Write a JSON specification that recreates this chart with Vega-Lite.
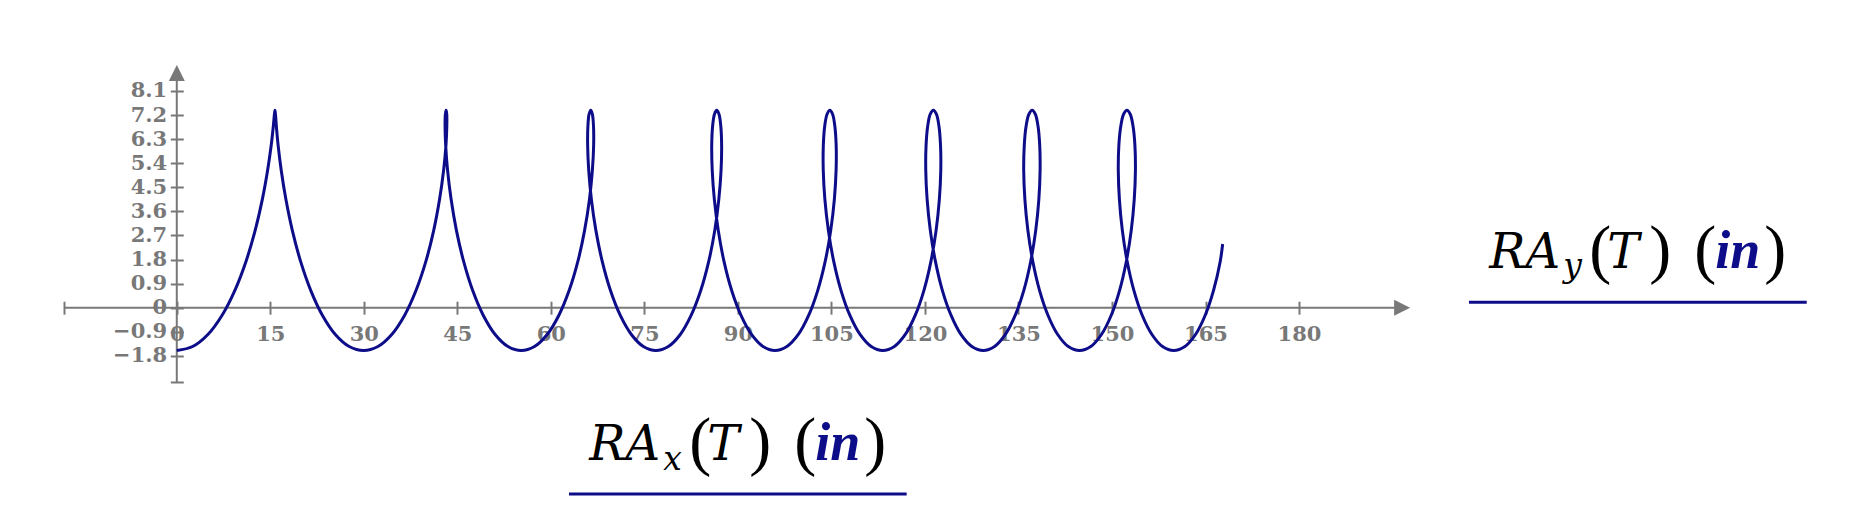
{
  "$schema": "https://vega.github.io/schema/vega-lite/v6.json",
  "width": 1346,
  "height": 317,
  "autosize": {"type": "none"},
  "padding": {"left": 64, "top": 65, "right": 455, "bottom": 131},
  "background": "white",
  "config": {"view": {"stroke": null}},
  "data": {
    "values": [
      {"i": 0, "x": 0, "y": -1.6}, {"i": 1, "x": 2.54, "y": -1.45}, {"i": 2, "x": 4.99, "y": -1.0}, {"i": 3, "x": 7.27, "y": -0.28},
      {"i": 4, "x": 9.32, "y": 0.65}, {"i": 5, "x": 11.1, "y": 1.73}, {"i": 6, "x": 12.57, "y": 2.89}, {"i": 7, "x": 13.72, "y": 4.05},
      {"i": 8, "x": 14.57, "y": 5.14}, {"i": 9, "x": 15.14, "y": 6.06}, {"i": 10, "x": 15.48, "y": 6.78}, {"i": 11, "x": 15.66, "y": 7.23},
      {"i": 12, "x": 15.75, "y": 7.38}, {"i": 13, "x": 15.83, "y": 7.23}, {"i": 14, "x": 15.97, "y": 6.78}, {"i": 15, "x": 16.26, "y": 6.06},
      {"i": 16, "x": 16.75, "y": 5.14}, {"i": 17, "x": 17.5, "y": 4.05}, {"i": 18, "x": 18.53, "y": 2.89}, {"i": 19, "x": 19.86, "y": 1.73},
      {"i": 20, "x": 21.48, "y": 0.65}, {"i": 21, "x": 23.35, "y": -0.28}, {"i": 22, "x": 25.43, "y": -1.0}, {"i": 23, "x": 27.66, "y": -1.45},
      {"i": 24, "x": 29.95, "y": -1.6}, {"i": 25, "x": 32.26, "y": -1.45}, {"i": 26, "x": 34.48, "y": -1.0}, {"i": 27, "x": 36.55, "y": -0.28},
      {"i": 28, "x": 38.38, "y": 0.65}, {"i": 29, "x": 39.95, "y": 1.73}, {"i": 30, "x": 41.21, "y": 2.89}, {"i": 31, "x": 42.15, "y": 4.05},
      {"i": 32, "x": 42.8, "y": 5.14}, {"i": 33, "x": 43.17, "y": 6.06}, {"i": 34, "x": 43.31, "y": 6.78}, {"i": 35, "x": 43.3, "y": 7.23},
      {"i": 36, "x": 43.2, "y": 7.38}, {"i": 37, "x": 43.08, "y": 7.23}, {"i": 38, "x": 43.03, "y": 6.78}, {"i": 39, "x": 43.13, "y": 6.06},
      {"i": 40, "x": 43.43, "y": 5.14}, {"i": 41, "x": 44.0, "y": 4.05}, {"i": 42, "x": 44.85, "y": 2.89}, {"i": 43, "x": 46.01, "y": 1.73},
      {"i": 44, "x": 47.45, "y": 0.65}, {"i": 45, "x": 49.15, "y": -0.28}, {"i": 46, "x": 51.06, "y": -1.0}, {"i": 47, "x": 53.12, "y": -1.45},
      {"i": 48, "x": 55.25, "y": -1.6}, {"i": 49, "x": 57.37, "y": -1.45}, {"i": 50, "x": 59.41, "y": -1.0}, {"i": 51, "x": 61.29, "y": -0.28},
      {"i": 52, "x": 62.94, "y": 0.65}, {"i": 53, "x": 64.33, "y": 1.73}, {"i": 54, "x": 65.41, "y": 2.89}, {"i": 55, "x": 66.19, "y": 4.05},
      {"i": 56, "x": 66.66, "y": 5.14}, {"i": 57, "x": 66.86, "y": 6.06}, {"i": 58, "x": 66.84, "y": 6.78}, {"i": 59, "x": 66.66, "y": 7.23},
      {"i": 60, "x": 66.4, "y": 7.38}, {"i": 61, "x": 66.13, "y": 7.23}, {"i": 62, "x": 65.94, "y": 6.78}, {"i": 63, "x": 65.9, "y": 6.06},
      {"i": 64, "x": 66.07, "y": 5.14}, {"i": 65, "x": 66.5, "y": 4.05}, {"i": 66, "x": 67.22, "y": 2.89}, {"i": 67, "x": 68.24, "y": 1.73},
      {"i": 68, "x": 69.55, "y": 0.65}, {"i": 69, "x": 71.12, "y": -0.28}, {"i": 70, "x": 72.91, "y": -1.0}, {"i": 71, "x": 74.84, "y": -1.45},
      {"i": 72, "x": 76.85, "y": -1.6}, {"i": 73, "x": 78.84, "y": -1.45}, {"i": 74, "x": 80.76, "y": -1.0}, {"i": 75, "x": 82.51, "y": -0.28},
      {"i": 76, "x": 84.05, "y": 0.65}, {"i": 77, "x": 85.32, "y": 1.73}, {"i": 78, "x": 86.29, "y": 2.89}, {"i": 79, "x": 86.94, "y": 4.05},
      {"i": 80, "x": 87.3, "y": 5.14}, {"i": 81, "x": 87.39, "y": 6.06}, {"i": 82, "x": 87.26, "y": 6.78}, {"i": 83, "x": 86.97, "y": 7.23},
      {"i": 84, "x": 86.6, "y": 7.38}, {"i": 85, "x": 86.24, "y": 7.23}, {"i": 86, "x": 85.94, "y": 6.78}, {"i": 87, "x": 85.8, "y": 6.06},
      {"i": 88, "x": 85.88, "y": 5.14}, {"i": 89, "x": 86.22, "y": 4.05}, {"i": 90, "x": 86.85, "y": 2.89}, {"i": 91, "x": 87.77, "y": 1.73},
      {"i": 92, "x": 88.99, "y": 0.65}, {"i": 93, "x": 90.48, "y": -0.28}, {"i": 94, "x": 92.18, "y": -1.0}, {"i": 95, "x": 94.03, "y": -1.45},
      {"i": 96, "x": 95.95, "y": -1.6}, {"i": 97, "x": 97.86, "y": -1.45}, {"i": 98, "x": 99.69, "y": -1.0}, {"i": 99, "x": 101.36, "y": -0.28},
      {"i": 100, "x": 102.81, "y": 0.65}, {"i": 101, "x": 104.0, "y": 1.73}, {"i": 102, "x": 104.89, "y": 2.89}, {"i": 103, "x": 105.47, "y": 4.05},
      {"i": 104, "x": 105.75, "y": 5.14}, {"i": 105, "x": 105.76, "y": 6.06}, {"i": 106, "x": 105.55, "y": 6.78}, {"i": 107, "x": 105.19, "y": 7.23},
      {"i": 108, "x": 104.75, "y": 7.38}, {"i": 109, "x": 104.3, "y": 7.23}, {"i": 110, "x": 103.92, "y": 6.78}, {"i": 111, "x": 103.7, "y": 6.06},
      {"i": 112, "x": 103.69, "y": 5.14}, {"i": 113, "x": 103.95, "y": 4.05}, {"i": 114, "x": 104.51, "y": 2.89}, {"i": 115, "x": 105.37, "y": 1.73},
      {"i": 116, "x": 106.53, "y": 0.65}, {"i": 117, "x": 107.95, "y": -0.28}, {"i": 118, "x": 109.59, "y": -1.0}, {"i": 119, "x": 111.38, "y": -1.45},
      {"i": 120, "x": 113.25, "y": -1.6}, {"i": 121, "x": 115.09, "y": -1.45}, {"i": 122, "x": 116.85, "y": -1.0}, {"i": 123, "x": 118.45, "y": -0.28},
      {"i": 124, "x": 119.84, "y": 0.65}, {"i": 125, "x": 120.96, "y": 1.73}, {"i": 126, "x": 121.79, "y": 2.89}, {"i": 127, "x": 122.31, "y": 4.05},
      {"i": 128, "x": 122.54, "y": 5.14}, {"i": 129, "x": 122.5, "y": 6.06}, {"i": 130, "x": 122.25, "y": 6.78}, {"i": 131, "x": 121.84, "y": 7.23},
      {"i": 132, "x": 121.35, "y": 7.38}, {"i": 133, "x": 120.85, "y": 7.23}, {"i": 134, "x": 120.44, "y": 6.78}, {"i": 135, "x": 120.18, "y": 6.06},
      {"i": 136, "x": 120.13, "y": 5.14}, {"i": 137, "x": 120.35, "y": 4.05}, {"i": 138, "x": 120.86, "y": 2.89}, {"i": 139, "x": 121.68, "y": 1.73},
      {"i": 140, "x": 122.79, "y": 0.65}, {"i": 141, "x": 124.18, "y": -0.28}, {"i": 142, "x": 125.77, "y": -1.0}, {"i": 143, "x": 127.52, "y": -1.45},
      {"i": 144, "x": 129.35, "y": -1.6}, {"i": 145, "x": 131.17, "y": -1.45}, {"i": 146, "x": 132.9, "y": -1.0}, {"i": 147, "x": 134.49, "y": -0.28},
      {"i": 148, "x": 135.86, "y": 0.65}, {"i": 149, "x": 136.96, "y": 1.73}, {"i": 150, "x": 137.77, "y": 2.89}, {"i": 151, "x": 138.27, "y": 4.05},
      {"i": 152, "x": 138.47, "y": 5.14}, {"i": 153, "x": 138.41, "y": 6.06}, {"i": 154, "x": 138.14, "y": 6.78}, {"i": 155, "x": 137.71, "y": 7.23},
      {"i": 156, "x": 137.2, "y": 7.38}, {"i": 157, "x": 136.67, "y": 7.23}, {"i": 158, "x": 136.22, "y": 6.78}, {"i": 159, "x": 135.93, "y": 6.06},
      {"i": 160, "x": 135.84, "y": 5.14}, {"i": 161, "x": 136.03, "y": 4.05}, {"i": 162, "x": 136.51, "y": 2.89}, {"i": 163, "x": 137.3, "y": 1.73},
      {"i": 164, "x": 138.38, "y": 0.65}, {"i": 165, "x": 139.73, "y": -0.28}, {"i": 166, "x": 141.29, "y": -1.0}, {"i": 167, "x": 143.0, "y": -1.45},
      {"i": 168, "x": 144.8, "y": -1.6}, {"i": 169, "x": 146.6, "y": -1.45}, {"i": 170, "x": 148.31, "y": -1.0}, {"i": 171, "x": 149.88, "y": -0.28},
      {"i": 172, "x": 151.22, "y": 0.65}, {"i": 173, "x": 152.3, "y": 1.73}, {"i": 174, "x": 153.09, "y": 2.89}, {"i": 175, "x": 153.57, "y": 4.05},
      {"i": 176, "x": 153.76, "y": 5.14}, {"i": 177, "x": 153.68, "y": 6.06}, {"i": 178, "x": 153.38, "y": 6.78}, {"i": 179, "x": 152.93, "y": 7.23},
      {"i": 180, "x": 152.4, "y": 7.38}, {"i": 181, "x": 151.86, "y": 7.23}, {"i": 182, "x": 151.41, "y": 6.78}, {"i": 183, "x": 151.1, "y": 6.06},
      {"i": 184, "x": 151.01, "y": 5.14}, {"i": 185, "x": 151.19, "y": 4.05}, {"i": 186, "x": 151.66, "y": 2.89}, {"i": 187, "x": 152.44, "y": 1.73},
      {"i": 188, "x": 153.51, "y": 0.65}, {"i": 189, "x": 154.85, "y": -0.28}, {"i": 190, "x": 156.41, "y": -1.0}, {"i": 191, "x": 158.11, "y": -1.45},
      {"i": 192, "x": 159.9, "y": -1.6}, {"i": 193, "x": 161.69, "y": -1.45}, {"i": 194, "x": 163.4, "y": -1.0}, {"i": 195, "x": 164.95, "y": -0.28},
      {"i": 196, "x": 166.29, "y": 0.65}, {"i": 197, "x": 167.36, "y": 1.73}, {"i": 198, "x": 167.75, "y": 2.38}
    ]
  },
  "layer": [
    {
      "data": {"values": [{}]},
      "mark": {"type": "rule", "color": "#787878", "strokeWidth": 2, "clip": false},
      "encoding": {"x": {"datum": -18.09}, "x2": {"datum": 196.54}, "y": {"datum": 0}}
    },
    {
      "data": {"values": [{}]},
      "mark": {"type": "rule", "color": "#787878", "strokeWidth": 2, "clip": false},
      "encoding": {"x": {"datum": 0}, "y": {"datum": -2.776}, "y2": {"datum": 8.77}}
    },
    {
      "data": {"values": [{}]},
      "mark": {"type": "point", "shape": "M-1,1L0,-1L1,1Z", "size": 256, "filled": true, "color": "#787878", "opacity": 1, "clip": false},
      "encoding": {"x": {"datum": 0}, "y": {"datum": 8.77}}
    },
    {
      "data": {"values": [{}]},
      "mark": {"type": "point", "shape": "M-1,-1L1,0L-1,1Z", "size": 256, "filled": true, "color": "#787878", "opacity": 1, "clip": false},
      "encoding": {"x": {"datum": 196.54}, "y": {"datum": 0}}
    },
    {
      "mark": {"type": "line", "color": "#0d0d8a", "strokeWidth": 3, "interpolate": "catmull-rom", "clip": false},
      "encoding": {
        "order": {"field": "i", "type": "quantitative"},
        "x": {
          "field": "x",
          "type": "quantitative",
          "scale": {"domain": [-18.09, 197.8], "nice": false, "zero": false},
          "axis": {
            "title": null,
            "orient": "bottom",
            "offset": -80.8,
            "domain": false,
            "grid": false,
            "values": [-18.09, 0, 15, 30, 45, 60, 75, 90, 105, 120, 135, 150, 165, 180],
            "tickCount": 40,
            "labelExpr": "datum.value < -18 ? '' : datum.label",
            "tickSize": 13,
            "tickWidth": 2,
            "tickColor": "#787878",
            "labelFont": "DejaVu Serif",
            "labelFontWeight": "bold",
            "labelFontSize": 21,
            "labelColor": "#787878",
            "labelBaseline": "middle",
            "labelPadding": 20,
            "labelFlush": false,
            "labelOverlap": false,
            "labelBound": false
          }
        },
        "y": {
          "field": "y",
          "type": "quantitative",
          "scale": {"domain": [-2.776, 9.07], "nice": false, "zero": false},
          "axis": {
            "title": null,
            "orient": "left",
            "offset": -119.3,
            "domain": false,
            "grid": false,
            "values": [-2.776, -1.8, -0.9, 0, 0.9, 1.8, 2.7, 3.6, 4.5, 5.4, 6.3, 7.2, 8.1],
            "tickCount": 40,
            "format": ".1~f",
            "labelExpr": "datum.value < -2.7 ? '' : datum.label",
            "tickSize": 13,
            "tickWidth": 2,
            "tickColor": "#787878",
            "labelFont": "DejaVu Serif",
            "labelFontWeight": "bold",
            "labelFontSize": 21,
            "labelColor": "#787878",
            "labelBaseline": "middle",
            "labelPadding": 3.6,
            "labelFlush": false,
            "labelOverlap": false,
            "labelBound": false
          }
        }
      }
    },
    {
      "data": {"values": [{}]},
      "mark": {"type": "rule", "color": "#0d0d8a", "strokeWidth": 3, "clip": false},
      "encoding": {"x": {"datum": 62.91}, "x2": {"datum": 117.07}, "y": {"datum": -6.961}}
    },
    {
      "data": {"values": [{}]},
      "mark": {"type": "rule", "color": "#0d0d8a", "strokeWidth": 3, "clip": false},
      "encoding": {"x": {"datum": 207.26}, "x2": {"datum": 261.43}, "y": {"datum": 0.202}}
    },
    {
      "data": {"values": [{}]},
      "mark": {"type": "text", "text": "RA", "font": "DejaVu Serif", "fontStyle": "italic", "fontSize": 48, "color": "black", "align": "left", "baseline": "alphabetic", "dx": 0, "clip": false},
      "encoding": {"x": {"datum": 66.16}, "y": {"datum": -5.691}}
    },
    {
      "data": {"values": [{}]},
      "mark": {"type": "text", "text": "x", "font": "DejaVu Serif", "fontStyle": "italic", "fontSize": 33, "color": "black", "align": "left", "baseline": "alphabetic", "dx": 74, "dy": 10, "clip": false},
      "encoding": {"x": {"datum": 66.16}, "y": {"datum": -5.691}}
    },
    {
      "data": {"values": [{}]},
      "mark": {"type": "text", "text": "(", "font": "Liberation Serif", "fontSize": 66, "color": "black", "align": "left", "baseline": "alphabetic", "dx": 100, "dy": 3, "clip": false},
      "encoding": {"x": {"datum": 66.16}, "y": {"datum": -5.691}}
    },
    {
      "data": {"values": [{}]},
      "mark": {"type": "text", "text": "T", "font": "DejaVu Serif", "fontStyle": "italic", "fontSize": 48, "color": "black", "align": "left", "baseline": "alphabetic", "dx": 118, "clip": false},
      "encoding": {"x": {"datum": 66.16}, "y": {"datum": -5.691}}
    },
    {
      "data": {"values": [{}]},
      "mark": {"type": "text", "text": ")", "font": "Liberation Serif", "fontSize": 66, "color": "black", "align": "left", "baseline": "alphabetic", "dx": 160, "dy": 3, "clip": false},
      "encoding": {"x": {"datum": 66.16}, "y": {"datum": -5.691}}
    },
    {
      "data": {"values": [{}]},
      "mark": {"type": "text", "text": "(", "font": "Liberation Serif", "fontSize": 66, "color": "black", "align": "left", "baseline": "alphabetic", "dx": 205, "dy": 3, "clip": false},
      "encoding": {"x": {"datum": 66.16}, "y": {"datum": -5.691}}
    },
    {
      "data": {"values": [{}]},
      "mark": {"type": "text", "text": "in", "font": "Liberation Serif", "fontStyle": "italic", "fontWeight": "bold", "fontSize": 54, "color": "#0d0d8a", "align": "left", "baseline": "alphabetic", "dx": 226, "clip": false},
      "encoding": {"x": {"datum": 66.16}, "y": {"datum": -5.691}}
    },
    {
      "data": {"values": [{}]},
      "mark": {"type": "text", "text": ")", "font": "Liberation Serif", "fontSize": 66, "color": "black", "align": "left", "baseline": "alphabetic", "dx": 275, "dy": 3, "clip": false},
      "encoding": {"x": {"datum": 66.16}, "y": {"datum": -5.691}}
    },
    {
      "data": {"values": [{}]},
      "mark": {"type": "text", "text": "RA", "font": "DejaVu Serif", "fontStyle": "italic", "fontSize": 48, "color": "black", "align": "left", "baseline": "alphabetic", "dx": 0, "clip": false},
      "encoding": {"x": {"datum": 210.52}, "y": {"datum": 1.473}}
    },
    {
      "data": {"values": [{}]},
      "mark": {"type": "text", "text": "y", "font": "DejaVu Serif", "fontStyle": "italic", "fontSize": 33, "color": "black", "align": "left", "baseline": "alphabetic", "dx": 74, "dy": 9, "clip": false},
      "encoding": {"x": {"datum": 210.52}, "y": {"datum": 1.473}}
    },
    {
      "data": {"values": [{}]},
      "mark": {"type": "text", "text": "(", "font": "Liberation Serif", "fontSize": 66, "color": "black", "align": "left", "baseline": "alphabetic", "dx": 100, "dy": 3, "clip": false},
      "encoding": {"x": {"datum": 210.52}, "y": {"datum": 1.473}}
    },
    {
      "data": {"values": [{}]},
      "mark": {"type": "text", "text": "T", "font": "DejaVu Serif", "fontStyle": "italic", "fontSize": 48, "color": "black", "align": "left", "baseline": "alphabetic", "dx": 118, "clip": false},
      "encoding": {"x": {"datum": 210.52}, "y": {"datum": 1.473}}
    },
    {
      "data": {"values": [{}]},
      "mark": {"type": "text", "text": ")", "font": "Liberation Serif", "fontSize": 66, "color": "black", "align": "left", "baseline": "alphabetic", "dx": 160, "dy": 3, "clip": false},
      "encoding": {"x": {"datum": 210.52}, "y": {"datum": 1.473}}
    },
    {
      "data": {"values": [{}]},
      "mark": {"type": "text", "text": "(", "font": "Liberation Serif", "fontSize": 66, "color": "black", "align": "left", "baseline": "alphabetic", "dx": 205, "dy": 3, "clip": false},
      "encoding": {"x": {"datum": 210.52}, "y": {"datum": 1.473}}
    },
    {
      "data": {"values": [{}]},
      "mark": {"type": "text", "text": "in", "font": "Liberation Serif", "fontStyle": "italic", "fontWeight": "bold", "fontSize": 54, "color": "#0d0d8a", "align": "left", "baseline": "alphabetic", "dx": 226, "clip": false},
      "encoding": {"x": {"datum": 210.52}, "y": {"datum": 1.473}}
    },
    {
      "data": {"values": [{}]},
      "mark": {"type": "text", "text": ")", "font": "Liberation Serif", "fontSize": 66, "color": "black", "align": "left", "baseline": "alphabetic", "dx": 275, "dy": 3, "clip": false},
      "encoding": {"x": {"datum": 210.52}, "y": {"datum": 1.473}}
    }
  ]
}
